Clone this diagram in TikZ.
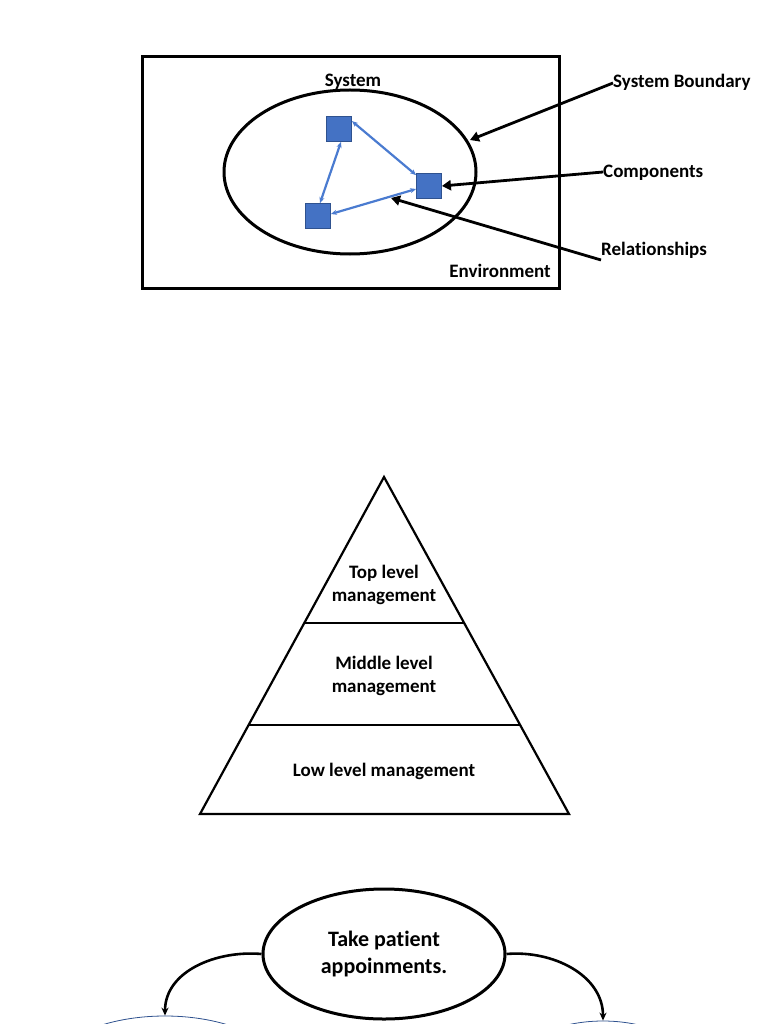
\documentclass[tikz,border=0pt]{standalone}
\usepackage{fontspec}
\setmainfont{Carlito}[Ligatures=NoCommon]
\usetikzlibrary{shapes.geometric,arrows.meta,calc}
\definecolor{compblue}{HTML}{4472C4}
\definecolor{compedge}{HTML}{2F528F}
\definecolor{relblue}{HTML}{4A7BD0}
\tikzset{
  lbl/.style={font=\bfseries\fontsize{19}{23}\selectfont, inner sep=0pt},
  comp/.style={draw=compedge, fill=compblue, minimum size=25pt, inner sep=0pt, line width=0.8pt},
  rel/.style={draw=relblue, line width=2.2pt, {Stealth[length=6pt,width=5pt]}-{Stealth[length=6pt,width=5pt]}},
  pointer/.style={draw=black, line width=2.8pt, -{Triangle[length=9pt,width=10pt]}},
  bigell/.style={draw, ellipse, line width=3pt},
  flow/.style={draw, line width=2.6pt, -{Stealth[length=8pt,width=7pt]}},
  lowell/.style={draw=compedge, ellipse, line width=0.8pt, minimum width=240pt, minimum height=120pt},
}
\begin{document}
\begin{tikzpicture}[x=1pt,y=-1pt]
\useasboundingbox (0,0) rectangle (768,1024);
\clip (0,0) rectangle (768,1024);
% ---------- system diagram ----------
\node[draw, line width=3pt, minimum width=417pt, minimum height=231pt, inner sep=0pt] (env) at (350.5,172.5) {};
\node[bigell, minimum width=252pt, minimum height=164pt] (sys) at (350,172) {};
\node[lbl] (systxt) at (353,82) {System};
\node[lbl, anchor=east] (envtxt) at (551,271) {Environment};
\node[comp] (c1) at (339,129) {};
\node[comp] (c2) at (429,186) {};
\node[comp] (c3) at (318,216) {};
\draw[rel] (c1.north east) ++(0,5) -- ([yshift=-2pt]c2.north west);
\draw[rel] ([xshift=2pt]c1.south) -- ([xshift=2pt]c3.north);
\draw[rel] ([yshift=2pt]c3.east) -- ([yshift=-3pt]c2.west);
\node[lbl, anchor=west] (sbtxt) at (613,82) {System Boundary};
\node[lbl, anchor=west] (comptxt) at (603,173) {Components};
\node[lbl, anchor=west] (reltxt) at (601,250) {Relationships};
\coordinate (sbtip) at (470,140);
\coordinate (reltip) at (391,198);
\draw[pointer] ([yshift=-1pt]sbtxt.west) -- (sbtip);
\draw[pointer] ([yshift=1pt]comptxt.west) -- (c2.east);
\draw[pointer] ([yshift=-10pt]reltxt.west) -- (reltip);
% ---------- pyramid ----------
\coordinate (apex) at (384,477);
\coordinate (bl) at (200,814);
\coordinate (br) at (569,814);
\draw[line width=2.2pt, line join=miter] (apex) -- (br) -- (bl) -- cycle;
\draw[line width=1.8pt] ($(apex)!0.433!(bl)$) -- ($(apex)!0.433!(br)$);
\draw[line width=1.8pt] ($(apex)!0.736!(bl)$) -- ($(apex)!0.736!(br)$);
\node[lbl, align=center] (top) at (384,585) {Top level\\management};
\node[lbl, align=center] (mid) at (384,676) {Middle level\\management};
\node[lbl] (low) at (384,771) {Low level management};
% ---------- use case ----------
\node[bigell, minimum width=242pt, minimum height=130pt, align=center, font=\bfseries\fontsize{22}{27}\selectfont] (take) at (384,954) {Take patient\\appoinments.};
\node[lowell] (ll) at (165,1076) {};
\node[lowell, minimum width=200pt] (rl) at (603,1081) {};
\draw[flow] (take.west) to[out=175,in=90] (ll.north);
\draw[flow] (take.east) to[out=5,in=90] (rl.north);
\end{tikzpicture}
\end{document}
